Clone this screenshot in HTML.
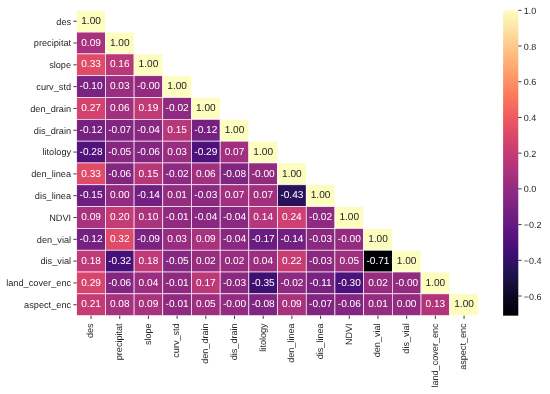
<!DOCTYPE html>
<html><head><meta charset="utf-8"><title>Correlation heatmap</title>
<style>html,body{margin:0;padding:0;background:#fff}svg{display:block;filter:blur(0.35px)}text{font-family:"Liberation Sans",Arial,sans-serif;text-rendering:geometricPrecision}</style></head><body>
<svg width="550" height="394" viewBox="0 0 550 394">
<rect width="550" height="394" fill="#fff"/>
<defs><linearGradient id="cb" x1="0" y1="0" x2="0" y2="1">
<stop offset="0.0000" stop-color="#fcfdbf"/>
<stop offset="0.0312" stop-color="#fcf0b2"/>
<stop offset="0.0625" stop-color="#fde2a3"/>
<stop offset="0.0938" stop-color="#fed395"/>
<stop offset="0.1250" stop-color="#fec488"/>
<stop offset="0.1562" stop-color="#feb67c"/>
<stop offset="0.1875" stop-color="#fea772"/>
<stop offset="0.2188" stop-color="#fd9869"/>
<stop offset="0.2500" stop-color="#fc8961"/>
<stop offset="0.2812" stop-color="#f9795d"/>
<stop offset="0.3125" stop-color="#f56b5c"/>
<stop offset="0.3438" stop-color="#ef5d5e"/>
<stop offset="0.3750" stop-color="#e75263"/>
<stop offset="0.4062" stop-color="#dc4869"/>
<stop offset="0.4375" stop-color="#d0416f"/>
<stop offset="0.4688" stop-color="#c43c75"/>
<stop offset="0.5000" stop-color="#b73779"/>
<stop offset="0.5312" stop-color="#aa337d"/>
<stop offset="0.5625" stop-color="#9c2e7f"/>
<stop offset="0.5938" stop-color="#902a81"/>
<stop offset="0.6250" stop-color="#832681"/>
<stop offset="0.6562" stop-color="#762181"/>
<stop offset="0.6875" stop-color="#6a1c81"/>
<stop offset="0.7188" stop-color="#5d177f"/>
<stop offset="0.7500" stop-color="#51127c"/>
<stop offset="0.7812" stop-color="#440f76"/>
<stop offset="0.8125" stop-color="#36106b"/>
<stop offset="0.8438" stop-color="#29115a"/>
<stop offset="0.8750" stop-color="#1d1147"/>
<stop offset="0.9062" stop-color="#130d34"/>
<stop offset="0.9375" stop-color="#0a0822"/>
<stop offset="0.9688" stop-color="#030312"/>
<stop offset="1.0000" stop-color="#000004"/>
</linearGradient></defs>
<g stroke="#fff" stroke-width="0.65">
<rect x="76.70" y="10.30" width="28.69" height="21.81" fill="#fcfdbf"/>
<rect x="76.70" y="32.11" width="28.69" height="21.81" fill="#a8327d"/>
<rect x="105.39" y="32.11" width="28.69" height="21.81" fill="#fcfdbf"/>
<rect x="76.70" y="53.92" width="28.69" height="21.81" fill="#e04c67"/>
<rect x="105.39" y="53.92" width="28.69" height="21.81" fill="#ba3878"/>
<rect x="134.09" y="53.92" width="28.69" height="21.81" fill="#fcfdbf"/>
<rect x="76.70" y="75.73" width="28.69" height="21.81" fill="#7b2382"/>
<rect x="105.39" y="75.73" width="28.69" height="21.81" fill="#992d80"/>
<rect x="134.09" y="75.73" width="28.69" height="21.81" fill="#932b80"/>
<rect x="162.78" y="75.73" width="28.69" height="21.81" fill="#fcfdbf"/>
<rect x="76.70" y="97.54" width="28.69" height="21.81" fill="#d3436e"/>
<rect x="105.39" y="97.54" width="28.69" height="21.81" fill="#a1307e"/>
<rect x="134.09" y="97.54" width="28.69" height="21.81" fill="#c03a76"/>
<rect x="162.78" y="97.54" width="28.69" height="21.81" fill="#8e2a81"/>
<rect x="191.47" y="97.54" width="28.69" height="21.81" fill="#fcfdbf"/>
<rect x="76.70" y="119.35" width="28.69" height="21.81" fill="#762181"/>
<rect x="105.39" y="119.35" width="28.69" height="21.81" fill="#812581"/>
<rect x="134.09" y="119.35" width="28.69" height="21.81" fill="#892881"/>
<rect x="162.78" y="119.35" width="28.69" height="21.81" fill="#b73779"/>
<rect x="191.47" y="119.35" width="28.69" height="21.81" fill="#762181"/>
<rect x="220.16" y="119.35" width="28.69" height="21.81" fill="#fcfdbf"/>
<rect x="76.70" y="141.16" width="28.69" height="21.81" fill="#51127c"/>
<rect x="105.39" y="141.16" width="28.69" height="21.81" fill="#862781"/>
<rect x="134.09" y="141.16" width="28.69" height="21.81" fill="#842681"/>
<rect x="162.78" y="141.16" width="28.69" height="21.81" fill="#992d80"/>
<rect x="191.47" y="141.16" width="28.69" height="21.81" fill="#4e117b"/>
<rect x="220.16" y="141.16" width="28.69" height="21.81" fill="#a3307e"/>
<rect x="248.86" y="141.16" width="28.69" height="21.81" fill="#fcfdbf"/>
<rect x="76.70" y="162.97" width="28.69" height="21.81" fill="#e04c67"/>
<rect x="105.39" y="162.97" width="28.69" height="21.81" fill="#842681"/>
<rect x="134.09" y="162.97" width="28.69" height="21.81" fill="#b73779"/>
<rect x="162.78" y="162.97" width="28.69" height="21.81" fill="#8e2a81"/>
<rect x="191.47" y="162.97" width="28.69" height="21.81" fill="#a1307e"/>
<rect x="220.16" y="162.97" width="28.69" height="21.81" fill="#802582"/>
<rect x="248.86" y="162.97" width="28.69" height="21.81" fill="#932b80"/>
<rect x="277.55" y="162.97" width="28.69" height="21.81" fill="#fcfdbf"/>
<rect x="76.70" y="184.79" width="28.69" height="21.81" fill="#6e1e81"/>
<rect x="105.39" y="184.79" width="28.69" height="21.81" fill="#932b80"/>
<rect x="134.09" y="184.79" width="28.69" height="21.81" fill="#721f81"/>
<rect x="162.78" y="184.79" width="28.69" height="21.81" fill="#942c80"/>
<rect x="191.47" y="184.79" width="28.69" height="21.81" fill="#8b2981"/>
<rect x="220.16" y="184.79" width="28.69" height="21.81" fill="#a3307e"/>
<rect x="248.86" y="184.79" width="28.69" height="21.81" fill="#a3307e"/>
<rect x="277.55" y="184.79" width="28.69" height="21.81" fill="#2a115c"/>
<rect x="306.24" y="184.79" width="28.69" height="21.81" fill="#fcfdbf"/>
<rect x="76.70" y="206.60" width="28.69" height="21.81" fill="#a8327d"/>
<rect x="105.39" y="206.60" width="28.69" height="21.81" fill="#c43c75"/>
<rect x="134.09" y="206.60" width="28.69" height="21.81" fill="#ab337c"/>
<rect x="162.78" y="206.60" width="28.69" height="21.81" fill="#902a81"/>
<rect x="191.47" y="206.60" width="28.69" height="21.81" fill="#892881"/>
<rect x="220.16" y="206.60" width="28.69" height="21.81" fill="#892881"/>
<rect x="248.86" y="206.60" width="28.69" height="21.81" fill="#b5367a"/>
<rect x="277.55" y="206.60" width="28.69" height="21.81" fill="#cd4071"/>
<rect x="306.24" y="206.60" width="28.69" height="21.81" fill="#8e2a81"/>
<rect x="334.94" y="206.60" width="28.69" height="21.81" fill="#fcfdbf"/>
<rect x="76.70" y="228.41" width="28.69" height="21.81" fill="#762181"/>
<rect x="105.39" y="228.41" width="28.69" height="21.81" fill="#df4a68"/>
<rect x="134.09" y="228.41" width="28.69" height="21.81" fill="#7c2382"/>
<rect x="162.78" y="228.41" width="28.69" height="21.81" fill="#992d80"/>
<rect x="191.47" y="228.41" width="28.69" height="21.81" fill="#a8327d"/>
<rect x="220.16" y="228.41" width="28.69" height="21.81" fill="#892881"/>
<rect x="248.86" y="228.41" width="28.69" height="21.81" fill="#6a1c81"/>
<rect x="277.55" y="228.41" width="28.69" height="21.81" fill="#721f81"/>
<rect x="306.24" y="228.41" width="28.69" height="21.81" fill="#8b2981"/>
<rect x="334.94" y="228.41" width="28.69" height="21.81" fill="#932b80"/>
<rect x="363.63" y="228.41" width="28.69" height="21.81" fill="#fcfdbf"/>
<rect x="76.70" y="250.22" width="28.69" height="21.81" fill="#bf3a77"/>
<rect x="105.39" y="250.22" width="28.69" height="21.81" fill="#471078"/>
<rect x="134.09" y="250.22" width="28.69" height="21.81" fill="#bf3a77"/>
<rect x="162.78" y="250.22" width="28.69" height="21.81" fill="#862781"/>
<rect x="191.47" y="250.22" width="28.69" height="21.81" fill="#982d80"/>
<rect x="220.16" y="250.22" width="28.69" height="21.81" fill="#982d80"/>
<rect x="248.86" y="250.22" width="28.69" height="21.81" fill="#9c2e7f"/>
<rect x="277.55" y="250.22" width="28.69" height="21.81" fill="#c83e73"/>
<rect x="306.24" y="250.22" width="28.69" height="21.81" fill="#8b2981"/>
<rect x="334.94" y="250.22" width="28.69" height="21.81" fill="#9e2f7f"/>
<rect x="363.63" y="250.22" width="28.69" height="21.81" fill="#000004"/>
<rect x="392.32" y="250.22" width="28.69" height="21.81" fill="#fcfdbf"/>
<rect x="76.70" y="272.03" width="28.69" height="21.81" fill="#d8456c"/>
<rect x="105.39" y="272.03" width="28.69" height="21.81" fill="#842681"/>
<rect x="134.09" y="272.03" width="28.69" height="21.81" fill="#9c2e7f"/>
<rect x="162.78" y="272.03" width="28.69" height="21.81" fill="#902a81"/>
<rect x="191.47" y="272.03" width="28.69" height="21.81" fill="#bc3978"/>
<rect x="220.16" y="272.03" width="28.69" height="21.81" fill="#8b2981"/>
<rect x="248.86" y="272.03" width="28.69" height="21.81" fill="#3f0f72"/>
<rect x="277.55" y="272.03" width="28.69" height="21.81" fill="#8e2a81"/>
<rect x="306.24" y="272.03" width="28.69" height="21.81" fill="#782281"/>
<rect x="334.94" y="272.03" width="28.69" height="21.81" fill="#4c117a"/>
<rect x="363.63" y="272.03" width="28.69" height="21.81" fill="#982d80"/>
<rect x="392.32" y="272.03" width="28.69" height="21.81" fill="#932b80"/>
<rect x="421.01" y="272.03" width="28.69" height="21.81" fill="#fcfdbf"/>
<rect x="76.70" y="293.84" width="28.69" height="21.81" fill="#c53c74"/>
<rect x="105.39" y="293.84" width="28.69" height="21.81" fill="#a6317d"/>
<rect x="134.09" y="293.84" width="28.69" height="21.81" fill="#a8327d"/>
<rect x="162.78" y="293.84" width="28.69" height="21.81" fill="#902a81"/>
<rect x="191.47" y="293.84" width="28.69" height="21.81" fill="#9e2f7f"/>
<rect x="220.16" y="293.84" width="28.69" height="21.81" fill="#932b80"/>
<rect x="248.86" y="293.84" width="28.69" height="21.81" fill="#802582"/>
<rect x="277.55" y="293.84" width="28.69" height="21.81" fill="#a8327d"/>
<rect x="306.24" y="293.84" width="28.69" height="21.81" fill="#812581"/>
<rect x="334.94" y="293.84" width="28.69" height="21.81" fill="#842681"/>
<rect x="363.63" y="293.84" width="28.69" height="21.81" fill="#942c80"/>
<rect x="392.32" y="293.84" width="28.69" height="21.81" fill="#932b80"/>
<rect x="421.01" y="293.84" width="28.69" height="21.81" fill="#b2357b"/>
<rect x="449.71" y="293.84" width="28.69" height="21.81" fill="#fcfdbf"/>
</g>
<g font-size="10.1" text-anchor="middle">
<text x="91.05" y="23.83" fill="#262626">1.00</text>
<text x="91.05" y="45.64" fill="#fff">0.09</text>
<text x="119.74" y="45.64" fill="#262626">1.00</text>
<text x="91.05" y="67.45" fill="#fff">0.33</text>
<text x="119.74" y="67.45" fill="#fff">0.16</text>
<text x="148.43" y="67.45" fill="#262626">1.00</text>
<text x="91.05" y="89.26" fill="#fff">-0.10</text>
<text x="119.74" y="89.26" fill="#fff">0.03</text>
<text x="148.43" y="89.26" fill="#fff">-0.00</text>
<text x="177.12" y="89.26" fill="#262626">1.00</text>
<text x="91.05" y="111.07" fill="#fff">0.27</text>
<text x="119.74" y="111.07" fill="#fff">0.06</text>
<text x="148.43" y="111.07" fill="#fff">0.19</text>
<text x="177.12" y="111.07" fill="#fff">-0.02</text>
<text x="205.82" y="111.07" fill="#262626">1.00</text>
<text x="91.05" y="132.88" fill="#fff">-0.12</text>
<text x="119.74" y="132.88" fill="#fff">-0.07</text>
<text x="148.43" y="132.88" fill="#fff">-0.04</text>
<text x="177.12" y="132.88" fill="#fff">0.15</text>
<text x="205.82" y="132.88" fill="#fff">-0.12</text>
<text x="234.51" y="132.88" fill="#262626">1.00</text>
<text x="91.05" y="154.70" fill="#fff">-0.28</text>
<text x="119.74" y="154.70" fill="#fff">-0.05</text>
<text x="148.43" y="154.70" fill="#fff">-0.06</text>
<text x="177.12" y="154.70" fill="#fff">0.03</text>
<text x="205.82" y="154.70" fill="#fff">-0.29</text>
<text x="234.51" y="154.70" fill="#fff">0.07</text>
<text x="263.20" y="154.70" fill="#262626">1.00</text>
<text x="91.05" y="176.51" fill="#fff">0.33</text>
<text x="119.74" y="176.51" fill="#fff">-0.06</text>
<text x="148.43" y="176.51" fill="#fff">0.15</text>
<text x="177.12" y="176.51" fill="#fff">-0.02</text>
<text x="205.82" y="176.51" fill="#fff">0.06</text>
<text x="234.51" y="176.51" fill="#fff">-0.08</text>
<text x="263.20" y="176.51" fill="#fff">-0.00</text>
<text x="291.90" y="176.51" fill="#262626">1.00</text>
<text x="91.05" y="198.32" fill="#fff">-0.15</text>
<text x="119.74" y="198.32" fill="#fff">0.00</text>
<text x="148.43" y="198.32" fill="#fff">-0.14</text>
<text x="177.12" y="198.32" fill="#fff">0.01</text>
<text x="205.82" y="198.32" fill="#fff">-0.03</text>
<text x="234.51" y="198.32" fill="#fff">0.07</text>
<text x="263.20" y="198.32" fill="#fff">0.07</text>
<text x="291.90" y="198.32" fill="#fff">-0.43</text>
<text x="320.59" y="198.32" fill="#262626">1.00</text>
<text x="91.05" y="220.13" fill="#fff">0.09</text>
<text x="119.74" y="220.13" fill="#fff">0.20</text>
<text x="148.43" y="220.13" fill="#fff">0.10</text>
<text x="177.12" y="220.13" fill="#fff">-0.01</text>
<text x="205.82" y="220.13" fill="#fff">-0.04</text>
<text x="234.51" y="220.13" fill="#fff">-0.04</text>
<text x="263.20" y="220.13" fill="#fff">0.14</text>
<text x="291.90" y="220.13" fill="#fff">0.24</text>
<text x="320.59" y="220.13" fill="#fff">-0.02</text>
<text x="349.28" y="220.13" fill="#262626">1.00</text>
<text x="91.05" y="241.94" fill="#fff">-0.12</text>
<text x="119.74" y="241.94" fill="#fff">0.32</text>
<text x="148.43" y="241.94" fill="#fff">-0.09</text>
<text x="177.12" y="241.94" fill="#fff">0.03</text>
<text x="205.82" y="241.94" fill="#fff">0.09</text>
<text x="234.51" y="241.94" fill="#fff">-0.04</text>
<text x="263.20" y="241.94" fill="#fff">-0.17</text>
<text x="291.90" y="241.94" fill="#fff">-0.14</text>
<text x="320.59" y="241.94" fill="#fff">-0.03</text>
<text x="349.28" y="241.94" fill="#fff">-0.00</text>
<text x="377.97" y="241.94" fill="#262626">1.00</text>
<text x="91.05" y="263.75" fill="#fff">0.18</text>
<text x="119.74" y="263.75" fill="#fff">-0.32</text>
<text x="148.43" y="263.75" fill="#fff">0.18</text>
<text x="177.12" y="263.75" fill="#fff">-0.05</text>
<text x="205.82" y="263.75" fill="#fff">0.02</text>
<text x="234.51" y="263.75" fill="#fff">0.02</text>
<text x="263.20" y="263.75" fill="#fff">0.04</text>
<text x="291.90" y="263.75" fill="#fff">0.22</text>
<text x="320.59" y="263.75" fill="#fff">-0.03</text>
<text x="349.28" y="263.75" fill="#fff">0.05</text>
<text x="377.97" y="263.75" fill="#fff">-0.71</text>
<text x="406.67" y="263.75" fill="#262626">1.00</text>
<text x="91.05" y="285.56" fill="#fff">0.29</text>
<text x="119.74" y="285.56" fill="#fff">-0.06</text>
<text x="148.43" y="285.56" fill="#fff">0.04</text>
<text x="177.12" y="285.56" fill="#fff">-0.01</text>
<text x="205.82" y="285.56" fill="#fff">0.17</text>
<text x="234.51" y="285.56" fill="#fff">-0.03</text>
<text x="263.20" y="285.56" fill="#fff">-0.35</text>
<text x="291.90" y="285.56" fill="#fff">-0.02</text>
<text x="320.59" y="285.56" fill="#fff">-0.11</text>
<text x="349.28" y="285.56" fill="#fff">-0.30</text>
<text x="377.97" y="285.56" fill="#fff">0.02</text>
<text x="406.67" y="285.56" fill="#fff">-0.00</text>
<text x="435.36" y="285.56" fill="#262626">1.00</text>
<text x="91.05" y="307.37" fill="#fff">0.21</text>
<text x="119.74" y="307.37" fill="#fff">0.08</text>
<text x="148.43" y="307.37" fill="#fff">0.09</text>
<text x="177.12" y="307.37" fill="#fff">-0.01</text>
<text x="205.82" y="307.37" fill="#fff">0.05</text>
<text x="234.51" y="307.37" fill="#fff">-0.00</text>
<text x="263.20" y="307.37" fill="#fff">-0.08</text>
<text x="291.90" y="307.37" fill="#fff">0.09</text>
<text x="320.59" y="307.37" fill="#fff">-0.07</text>
<text x="349.28" y="307.37" fill="#fff">-0.06</text>
<text x="377.97" y="307.37" fill="#fff">0.01</text>
<text x="406.67" y="307.37" fill="#fff">0.00</text>
<text x="435.36" y="307.37" fill="#fff">0.13</text>
<text x="464.05" y="307.37" fill="#262626">1.00</text>
</g>
<g stroke="#262626" stroke-width="0.9">
<line x1="73.40" y1="21.21" x2="76.70" y2="21.21"/>
<line x1="91.05" y1="315.65" x2="91.05" y2="318.95"/>
<line x1="73.40" y1="43.02" x2="76.70" y2="43.02"/>
<line x1="119.74" y1="315.65" x2="119.74" y2="318.95"/>
<line x1="73.40" y1="64.83" x2="76.70" y2="64.83"/>
<line x1="148.43" y1="315.65" x2="148.43" y2="318.95"/>
<line x1="73.40" y1="86.64" x2="76.70" y2="86.64"/>
<line x1="177.12" y1="315.65" x2="177.12" y2="318.95"/>
<line x1="73.40" y1="108.45" x2="76.70" y2="108.45"/>
<line x1="205.82" y1="315.65" x2="205.82" y2="318.95"/>
<line x1="73.40" y1="130.26" x2="76.70" y2="130.26"/>
<line x1="234.51" y1="315.65" x2="234.51" y2="318.95"/>
<line x1="73.40" y1="152.07" x2="76.70" y2="152.07"/>
<line x1="263.20" y1="315.65" x2="263.20" y2="318.95"/>
<line x1="73.40" y1="173.88" x2="76.70" y2="173.88"/>
<line x1="291.90" y1="315.65" x2="291.90" y2="318.95"/>
<line x1="73.40" y1="195.69" x2="76.70" y2="195.69"/>
<line x1="320.59" y1="315.65" x2="320.59" y2="318.95"/>
<line x1="73.40" y1="217.50" x2="76.70" y2="217.50"/>
<line x1="349.28" y1="315.65" x2="349.28" y2="318.95"/>
<line x1="73.40" y1="239.31" x2="76.70" y2="239.31"/>
<line x1="377.97" y1="315.65" x2="377.97" y2="318.95"/>
<line x1="73.40" y1="261.12" x2="76.70" y2="261.12"/>
<line x1="406.67" y1="315.65" x2="406.67" y2="318.95"/>
<line x1="73.40" y1="282.93" x2="76.70" y2="282.93"/>
<line x1="435.36" y1="315.65" x2="435.36" y2="318.95"/>
<line x1="73.40" y1="304.74" x2="76.70" y2="304.74"/>
<line x1="464.05" y1="315.65" x2="464.05" y2="318.95"/>
</g>
<g font-size="9.2" fill="#262626" text-anchor="end">
<text x="71.10" y="24.52">des</text>
<text x="71.10" y="46.33">precipitat</text>
<text x="71.10" y="68.14">slope</text>
<text x="71.10" y="89.95">curv_std</text>
<text x="71.10" y="111.76">den_drain</text>
<text x="71.10" y="133.57">dis_drain</text>
<text x="71.10" y="155.38">litology</text>
<text x="71.10" y="177.19">den_linea</text>
<text x="71.10" y="199.00">dis_linea</text>
<text x="71.10" y="220.81">NDVI</text>
<text x="71.10" y="242.62">den_vial</text>
<text x="71.10" y="264.44">dis_vial</text>
<text x="71.10" y="286.25">land_cover_enc</text>
<text x="71.10" y="308.06">aspect_enc</text>
</g>
<g font-size="9.1" fill="#262626" text-anchor="end">
<text transform="translate(93.41,323.35) rotate(-90)" x="0" y="0">des</text>
<text transform="translate(122.11,323.35) rotate(-90)" x="0" y="0">precipitat</text>
<text transform="translate(150.80,323.35) rotate(-90)" x="0" y="0">slope</text>
<text transform="translate(179.49,323.35) rotate(-90)" x="0" y="0">curv_std</text>
<text transform="translate(208.18,323.35) rotate(-90)" x="0" y="0">den_drain</text>
<text transform="translate(236.88,323.35) rotate(-90)" x="0" y="0">dis_drain</text>
<text transform="translate(265.57,323.35) rotate(-90)" x="0" y="0">litology</text>
<text transform="translate(294.26,323.35) rotate(-90)" x="0" y="0">den_linea</text>
<text transform="translate(322.96,323.35) rotate(-90)" x="0" y="0">dis_linea</text>
<text transform="translate(351.65,323.35) rotate(-90)" x="0" y="0">NDVI</text>
<text transform="translate(380.34,323.35) rotate(-90)" x="0" y="0">den_vial</text>
<text transform="translate(409.03,323.35) rotate(-90)" x="0" y="0">dis_vial</text>
<text transform="translate(437.73,323.35) rotate(-90)" x="0" y="0">land_cover_enc</text>
<text transform="translate(466.42,323.35) rotate(-90)" x="0" y="0">aspect_enc</text>
</g>
<rect x="503.10" y="10.30" width="15.20" height="305.35" fill="url(#cb)"/>
<g stroke="#262626" stroke-width="0.9">
<line x1="518.30" y1="10.30" x2="521.60" y2="10.30"/>
<line x1="518.30" y1="46.01" x2="521.60" y2="46.01"/>
<line x1="518.30" y1="81.73" x2="521.60" y2="81.73"/>
<line x1="518.30" y1="117.44" x2="521.60" y2="117.44"/>
<line x1="518.30" y1="153.15" x2="521.60" y2="153.15"/>
<line x1="518.30" y1="188.87" x2="521.60" y2="188.87"/>
<line x1="518.30" y1="224.58" x2="521.60" y2="224.58"/>
<line x1="518.30" y1="260.29" x2="521.60" y2="260.29"/>
<line x1="518.30" y1="296.01" x2="521.60" y2="296.01"/>
</g>
<g font-size="9.0" fill="#262626">
<text x="523.80" y="13.84">1.0</text>
<text x="523.80" y="49.55">0.8</text>
<text x="523.80" y="85.27">0.6</text>
<text x="523.80" y="120.98">0.4</text>
<text x="523.80" y="156.69">0.2</text>
<text x="523.80" y="192.41">0.0</text>
<text x="523.80" y="228.12">−0.2</text>
<text x="523.80" y="263.83">−0.4</text>
<text x="523.80" y="299.55">−0.6</text>
</g>
</svg></body></html>
